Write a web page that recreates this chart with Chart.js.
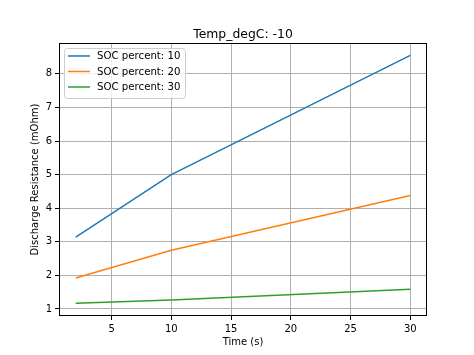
<!DOCTYPE html>
<html>
<head>
<meta charset="utf-8">
<script src="https://cdn.jsdelivr.net/npm/chart.js@4/dist/chart.umd.min.js"></script>
<style>
html,body{margin:0;padding:0;background:#fff;}
canvas{display:block;}
</style>
</head>
<body>
<canvas id="c" width="474" height="355"></canvas>
<script>
const timeS = [2, 10, 30];
const soc10 = [3.14, 5.00, 8.55];
const soc20 = [1.92, 2.75, 4.38];
const soc30 = [1.17, 1.27, 1.59];
const seriesLabels = ['SOC percent: 10', 'SOC percent: 20', 'SOC percent: 30'];
const seriesColors = ['#1f77b4', '#ff7f0e', '#2ca02c'];
const xTicks = [5, 10, 15, 20, 25, 30];
const yTicks = [1, 2, 3, 4, 5, 6, 7, 8];
const titleText = 'Temp_degC: -10';
const xTitle = 'Time (s)';
const yTitle = 'Discharge Resistance (mOhm)';

const FONT = 'DejaVu Sans';
const allSeries = [soc10, soc20, soc30];

const datasets = allSeries.map((vals, i) => ({
  label: seriesLabels[i],
  data: timeS.map((t, j) => ({x: t, y: vals[j]})),
  borderColor: seriesColors[i],
  backgroundColor: seriesColors[i],
  borderWidth: 1.5,
  pointRadius: 0,
  tension: 0,
  fill: false,
  yAxisID: 'y'
}));

const framePlugin = {
  id: 'frame',
  afterDatasetsDraw(chart) {
    const {ctx, chartArea: a} = chart;
    ctx.save();
    ctx.strokeStyle = '#000';
    ctx.lineWidth = 1;
    ctx.strokeRect(Math.round(a.left) + 0.5, Math.round(a.top) + 0.5,
                   Math.round(a.right - a.left) - 1, Math.round(a.bottom - a.top) - 1);
    ctx.restore();
  }
};

const legendPlugin = {
  id: 'mplLegend',
  afterDraw(chart) {
    const {ctx, chartArea: a} = chart;
    const x0 = a.left + 5.5, y0 = a.top + 5.5, w = 121, h = 50, r = 3;
    ctx.save();
    ctx.beginPath();
    ctx.moveTo(x0 + r, y0);
    ctx.lineTo(x0 + w - r, y0);
    ctx.arcTo(x0 + w, y0, x0 + w, y0 + r, r);
    ctx.lineTo(x0 + w, y0 + h - r);
    ctx.arcTo(x0 + w, y0 + h, x0 + w - r, y0 + h, r);
    ctx.lineTo(x0 + r, y0 + h);
    ctx.arcTo(x0, y0 + h, x0, y0 + h - r, r);
    ctx.lineTo(x0, y0 + r);
    ctx.arcTo(x0, y0, x0 + r, y0, r);
    ctx.closePath();
    ctx.fillStyle = 'rgba(255,255,255,0.8)';
    ctx.fill();
    ctx.strokeStyle = '#cccccc';
    ctx.lineWidth = 1;
    ctx.stroke();
    ctx.font = '10.2px "' + FONT + '"';
    ctx.textBaseline = 'middle';
    ctx.fillStyle = '#000';
    chart.data.datasets.forEach((ds, i) => {
      const yy = a.top + 13 + i * 15.5;
      ctx.beginPath();
      ctx.strokeStyle = ds.borderColor;
      ctx.lineWidth = 1.5;
      ctx.moveTo(a.left + 9, yy);
      ctx.lineTo(a.left + 31, yy);
      ctx.stroke();
      ctx.fillText(ds.label, a.left + 38, yy + 0.5);
    });
    ctx.restore();
  }
};

new Chart(document.getElementById('c'), {
  type: 'line',
  data: {datasets},
  options: {
    responsive: false,
    animation: false,
    layout: {padding: {left: 12, right: 0, top: 0, bottom: 0}},
    plugins: {
      legend: {display: false},
      tooltip: {enabled: false},
      title: {
        display: true,
        text: titleText,
        color: '#000',
        font: {family: FONT, size: 12.4, weight: 'normal'},
        padding: {top: 27, bottom: 1.1}
      }
    },
    scales: {
      x: {
        type: 'linear',
        min: 0.6,
        max: 31.4,
        afterBuildTicks: s => { s.ticks = xTicks.map(v => ({value: v})); },
        afterFit: s => { s.height = 39; },
        grid: {color: '#b0b0b0', lineWidth: 1, tickColor: '#000', tickLength: 4, drawTicks: true},
        border: {display: false},
        ticks: {color: '#000', font: {family: FONT, size: 10}, padding: 3, maxRotation: 0},
        title: {display: true, text: xTitle, color: '#000', font: {family: FONT, size: 10}, padding: {top: 0, bottom: 7}}
      },
      y: {
        type: 'linear',
        position: 'left',
        min: 0.79,
        max: 8.92,
        afterBuildTicks: s => { s.ticks = yTicks.map(v => ({value: v})); },
        afterFit: s => { s.width = 47; },
        grid: {color: '#b0b0b0', lineWidth: 1, tickColor: '#000', tickLength: 4, drawTicks: true},
        border: {display: false},
        ticks: {color: '#000', font: {family: FONT, size: 10}, padding: 3},
        title: {display: true, text: yTitle, color: '#000', font: {family: FONT, size: 10}, padding: {top: 17, bottom: 0}}
      },
      yRight: {
        type: 'linear',
        position: 'right',
        min: 0.79,
        max: 8.92,
        afterFit: s => { s.width = 47; },
        grid: {display: false, drawTicks: false},
        border: {display: false},
        ticks: {display: false}
      }
    }
  },
  plugins: [framePlugin, legendPlugin]
});
</script>
</body>
</html>
